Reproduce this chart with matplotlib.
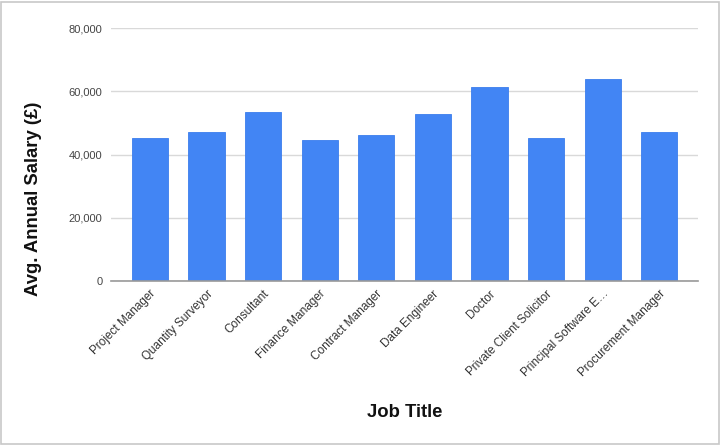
import matplotlib
matplotlib.use("Agg")
import matplotlib.pyplot as plt
from matplotlib.ticker import FuncFormatter
from matplotlib.patches import Rectangle

jobs = ["Project Manager", "Quantity Surveyor", "Consultant", "Finance Manager",
        "Contract Manager", "Data Engineer", "Doctor", "Private Client Solicitor",
        "Principal Software E…", "Procurement Manager"]
salaries = [45300, 47000, 53500, 44700, 46200, 52900, 61300, 45300, 64000, 47000]
yticks = [0, 20000, 40000, 60000, 80000]

plt.rcParams['font.family'] = ['Liberation Sans', 'DejaVu Sans']

fig = plt.figure(figsize=(7.2, 4.46), dpi=100)
ax = fig.add_axes([0.154, 0.370, 0.815, 0.567])

x = list(range(len(jobs)))
ax.bar(x, salaries, width=0.64, color='#4285F4', edgecolor='#3b7ded', linewidth=0.6, zorder=3)

ax.set_xlim(-0.69, 9.68)
ax.set_ylim(0, 80000)
ax.set_yticks(yticks)
ax.yaxis.set_major_formatter(FuncFormatter(lambda v, p: f"{int(v):,}"))
ax.grid(axis='y', color='#d9d9d9', linewidth=1, zorder=0)
ax.set_axisbelow(True)
for s in ['top', 'right', 'left']:
    ax.spines[s].set_visible(False)
ax.spines['bottom'].set_color('#999999')
ax.spines['bottom'].set_linewidth(1.2)
ax.spines['bottom'].set_zorder(4)
ax.tick_params(axis='y', length=0, labelsize=8, labelcolor='#444444', pad=6)
ax.tick_params(axis='x', length=0, labelsize=8.5, labelcolor='#333333', pad=5)
ax.set_xticks(x)
ax.set_xticklabels(jobs, rotation=45, ha='right', rotation_mode='anchor')

fig.text(0.047, 0.554, "Avg. Annual Salary (£)", rotation=90, ha='center', va='center',
         fontsize=13.3, fontweight='bold', color='#111111')
fig.text(0.562, 0.076, "Job Title", ha='center', va='center',
         fontsize=13.3, fontweight='bold', color='#111111')

fig.patches.append(Rectangle((0.002, 0.004), 0.996, 0.992, transform=fig.transFigure,
                             fill=False, edgecolor='#c8c8c8', linewidth=1.2))

fig.savefig("out.png", dpi=100, facecolor='white')
